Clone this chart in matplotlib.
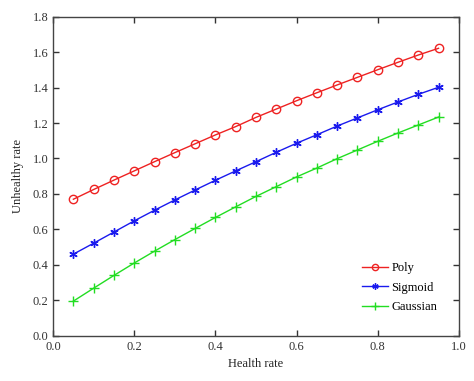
import matplotlib
matplotlib.use("Agg")
import matplotlib.pyplot as plt

plt.rcParams['font.family'] = ['Liberation Serif', 'DejaVu Serif']

x = [0.05, 0.10, 0.15, 0.20, 0.25, 0.30, 0.35, 0.40, 0.45, 0.50,
     0.55, 0.60, 0.65, 0.70, 0.75, 0.80, 0.85, 0.90, 0.95]
poly = [0.770, 0.825, 0.878, 0.930, 0.982, 1.033, 1.083, 1.133, 1.180, 1.232,
        1.279, 1.326, 1.371, 1.415, 1.458, 1.501, 1.543, 1.584, 1.622]
sigmoid = [0.460, 0.522, 0.585, 0.648, 0.708, 0.766, 0.822, 0.877, 0.930, 0.982,
           1.035, 1.086, 1.134, 1.183, 1.229, 1.275, 1.319, 1.362, 1.402]
gaussian = [0.195, 0.268, 0.340, 0.410, 0.477, 0.542, 0.605, 0.667, 0.727, 0.786,
            0.841, 0.896, 0.946, 0.999, 1.048, 1.097, 1.144, 1.189, 1.234]
labels = ["Poly", "Sigmoid", "Gaussian"]

fig = plt.figure(figsize=(4.74, 3.81), dpi=100)
ax = fig.add_axes([0.112, 0.119, 0.856, 0.837])

ax.plot(x, poly, color='#ee2222', lw=1.0, marker='o', ms=6, mfc='none', mew=1.0, label=labels[0])
ax.plot(x, sigmoid, color='#1a1aee', lw=1.0, marker=(6, 2, 0), ms=6, mew=1.0, label=labels[1])
ax.plot(x, gaussian, color='#22dd22', lw=1.0, marker='+', ms=7, mew=1.0, label=labels[2])

ax.set_xlim(0, 1)
ax.set_ylim(0, 1.8)
ax.set_xticks([0.0, 0.2, 0.4, 0.6, 0.8, 1.0])
ax.set_yticks([0.0, 0.2, 0.4, 0.6, 0.8, 1.0, 1.2, 1.4, 1.6, 1.8])
ax.xaxis.set_major_formatter(matplotlib.ticker.FormatStrFormatter('%.1f'))
ax.yaxis.set_major_formatter(matplotlib.ticker.FormatStrFormatter('%.1f'))
ax.tick_params(direction='in', top=True, right=True, length=4, width=1.0,
               labelsize=9, colors='#333333', labelcolor='#333333')
for s in ax.spines.values():
    s.set_linewidth(1.0)
    s.set_color('#444444')

ax.set_xlabel("Health rate", fontsize=9, color='#222222', labelpad=4)
ax.set_ylabel("Unhealthy rate", fontsize=9, color='#222222', labelpad=6)

ax.legend(loc='lower right', frameon=False, fontsize=9, handlelength=2.1,
          bbox_to_anchor=(0.975, 0.035), labelspacing=0.6, handletextpad=0.3,
          markerscale=0.75)

fig.savefig("out.png", dpi=100)
